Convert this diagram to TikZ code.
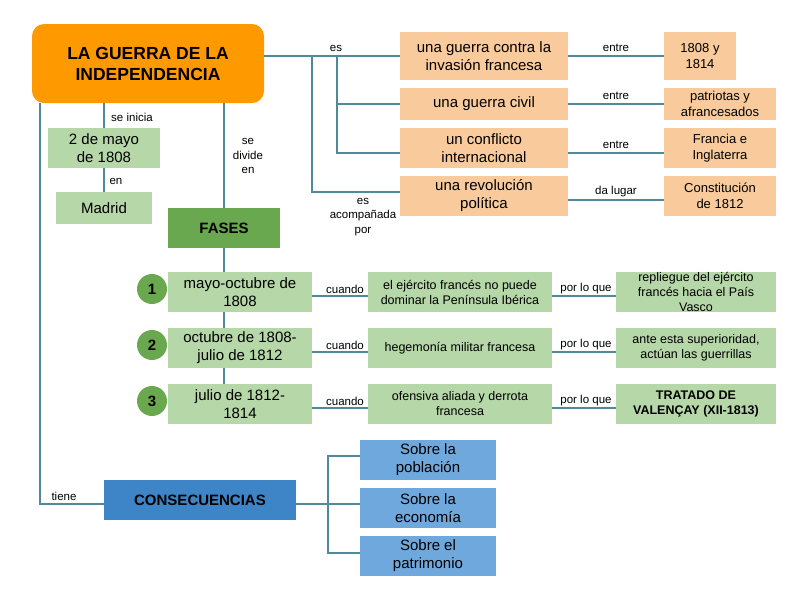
\documentclass[tikz,border=0pt]{standalone}
\usepackage{fontspec}
\setmainfont{Liberation Sans}
\definecolor{orangeM}{HTML}{FF9900}
\definecolor{peach}{HTML}{F9CB9C}
\definecolor{lgreen}{HTML}{B6D7A8}
\definecolor{dgreen}{HTML}{6AA84F}
\definecolor{dblue}{HTML}{3D85C6}
\definecolor{lblue}{HTML}{6FA8DC}
\definecolor{linec}{HTML}{4F8A9B}
\tikzset{
  bx/.style={inner sep=0pt, align=center, font=\fontsize{15}{18}\selectfont},
  sbx/.style={inner sep=0pt, align=center, font=\fontsize{12.5}{15}\selectfont},
  conn/.style={draw=linec, line width=2pt},
  lbl/.style={inner sep=0pt, align=center, font=\fontsize{11.5}{14.5}\selectfont},
  num/.style={circle, fill=dgreen, minimum size=30pt, inner sep=0pt, font=\bfseries\fontsize{15}{18}\selectfont}
}
\begin{document}
\begin{tikzpicture}[x=1pt,y=-1pt]
\useasboundingbox (0,0) rectangle (800,600);
% main
\node[bx, fill=orangeM, rounded corners=12pt, minimum width=232pt, minimum height=79pt, font=\bfseries\fontsize{17.5}{21}\selectfont] (main) at (148,63.5) {LA GUERRA DE LA\\INDEPENDENCIA};
% left column
\node[bx, fill=lgreen, minimum width=112pt, minimum height=40pt] (date) at (104,148) {2 de mayo\\de 1808};
\node[bx, fill=lgreen, minimum width=96pt, minimum height=32pt] (madrid) at (104,208) {Madrid};
\node[bx, fill=dgreen, minimum width=112pt, minimum height=40pt, font=\bfseries\fontsize{15}{18}\selectfont] (fases) at (224,228) {FASES};
% phases
\node[bx, fill=lgreen, minimum width=144pt, minimum height=40pt] (ph1) at (240,292) {mayo-octubre de\\1808};
\node[bx, fill=lgreen, minimum width=144pt, minimum height=40pt] (ph2) at (240,348) {octubre de 1808-\\julio de 1812};
\node[bx, fill=lgreen, minimum width=144pt, minimum height=40pt] (ph3) at (240,404) {julio de 1812-\\1814};
\node[num] (n1) at (152,289) {1};
\node[num] (n2) at (152,345) {2};
\node[num] (n3) at (152,401) {3};
\node[sbx, fill=lgreen, minimum width=184pt, minimum height=40pt] (m1) at (460,292) {el ejército francés no puede\\dominar la Península Ibérica};
\node[sbx, fill=lgreen, minimum width=184pt, minimum height=40pt] (m2) at (460,348) {hegemonía militar francesa};
\node[sbx, fill=lgreen, minimum width=184pt, minimum height=40pt] (m3) at (460,404) {ofensiva aliada y derrota\\francesa};
\node[sbx, fill=lgreen, minimum width=160pt, minimum height=40pt] (r1) at (696,292) {repliegue del ejército\\francés hacia el País\\Vasco};
\node[sbx, fill=lgreen, minimum width=160pt, minimum height=40pt] (r2) at (696,348) {ante esta superioridad,\\actúan las guerrillas};
\node[sbx, fill=lgreen, minimum width=160pt, minimum height=40pt, font=\bfseries\fontsize{12.5}{15}\selectfont] (r3) at (696,404) {TRATADO DE\\VALENÇAY (XII-1813)};
% top right
\node[bx, fill=peach, minimum width=168pt, minimum height=48pt] (a1) at (484,56) {una guerra contra la\\invasión francesa};
\node[bx, fill=peach, minimum width=168pt, minimum height=32pt] (a2) at (484,104) {una guerra civil};
\node[bx, fill=peach, minimum width=168pt, minimum height=40pt] (a3) at (484,148) {un conflicto\\internacional};
\node[bx, fill=peach, minimum width=168pt, minimum height=40pt] (a4) at (484,196) {una revolución\\política};
\node[sbx, fill=peach, minimum width=72pt, minimum height=48pt, font=\fontsize{13}{16}\selectfont] (b1) at (700,56) {1808 y\\1814};
\node[sbx, fill=peach, minimum width=112pt, minimum height=32pt, font=\fontsize{13}{16}\selectfont] (b2) at (720,104) {patriotas y\\afrancesados};
\node[sbx, fill=peach, minimum width=112pt, minimum height=40pt, font=\fontsize{13}{16}\selectfont] (b3) at (720,148) {Francia e\\Inglaterra};
\node[sbx, fill=peach, minimum width=112pt, minimum height=40pt, font=\fontsize{13}{16}\selectfont] (b4) at (720,196) {Constitución\\de 1812};
% consequences
\node[bx, fill=dblue, minimum width=192pt, minimum height=40pt, font=\bfseries\fontsize{15}{18}\selectfont] (cons) at (200,500) {CONSECUENCIAS};
\node[bx, fill=lblue, minimum width=136pt, minimum height=40pt] (c1) at (428,460) {Sobre la\\población};
\node[bx, fill=lblue, minimum width=136pt, minimum height=40pt] (c2) at (428,508) {Sobre la\\economía};
\node[bx, fill=lblue, minimum width=136pt, minimum height=40pt] (c3) at (428,556) {Sobre el\\patrimonio};
% coordinates
\coordinate (l0) at (40,103);
\coordinate (j1) at (312,56);
\coordinate (j2) at (337,56);
\coordinate (j3) at (328,504);
\coordinate (a3w) at ([yshift=-5pt]a3.west);
\coordinate (a4w) at ([yshift=4pt]a4.west);
\coordinate (c1w) at ([yshift=4pt]c1.west);
\coordinate (c3w) at ([yshift=3pt]c3.west);
% connectors
\draw[conn] (main.east |- a1.west) -- (a1.west);
\draw[conn] (j1) |- (a4w);
\draw[conn] (j2) |- (a3w);
\draw[conn] (j2 |- a2.west) -- (a2.west);
\draw[conn] (a1.east) -- (b1.west);
\draw[conn] (a2.east) -- (b2.west);
\draw[conn] ([yshift=-5pt]a3.east) -- ([yshift=-5pt]b3.west);
\draw[conn] ([yshift=-4pt]a4.east) -- ([yshift=-4pt]b4.west);
\draw[conn] (main.south -| date.north) -- (date.north);
\draw[conn] (date.south) -- (madrid.north);
\draw[conn] (main.south -| fases.north) -- (fases.north);
\draw[conn] (fases.south) -- (fases.south |- ph1.north);
\draw[conn] (ph1.south -| fases.south) -- (ph2.north -| fases.south);
\draw[conn] (ph2.south -| fases.south) -- (ph3.north -| fases.south);
\draw[conn] ([yshift=-3.5pt]ph1.east) -- ([yshift=-3.5pt]m1.west);
\draw[conn] ([yshift=-3.5pt]ph2.east) -- ([yshift=-3.5pt]m2.west);
\draw[conn] ([yshift=-3.5pt]ph3.east) -- ([yshift=-3.5pt]m3.west);
\draw[conn] ([yshift=-3.5pt]m1.east) -- ([yshift=-3.5pt]r1.west);
\draw[conn] ([yshift=-3.5pt]m2.east) -- ([yshift=-3.5pt]r2.west);
\draw[conn] ([yshift=-3.5pt]m3.east) -- ([yshift=-3.5pt]r3.west);
\draw[conn] (l0) |- ([yshift=-4pt]cons.west);
\draw[conn] ([yshift=-4pt]cons.east) -- (j3);
\draw[conn] (c1w) -| (c3w -| j3) -- (c3w);
\draw[conn] (j3) -- ([yshift=4pt]c2.west);
% labels
\node[lbl] (les) at (336,48) {es};
\node[lbl] (lacomp) at (363,217) {es\\acompañada\\por};
\node[lbl] (le1) at (616,48) {entre};
\node[lbl] (le2) at (616,96) {entre};
\node[lbl] (le3) at (616,145) {entre};
\node[lbl] (ldl) at (616,192) {da lugar};
\node[lbl] (lini) at (132,117) {se inicia};
\node[lbl] (len) at (116,181) {en};
\node[lbl] (ldiv) at (248,156) {se\\divide\\en};
\node[lbl] (ltiene) at (64,496) {tiene};
\node[lbl] (lc1) at (345,289) {cuando};
\node[lbl] (lc2) at (345,345) {cuando};
\node[lbl] (lc3) at (345,401) {cuando};
\node[lbl] (lp1) at (586,289) {por lo que};
\node[lbl] (lp2) at (586,345) {por lo que};
\node[lbl] (lp3) at (586,401) {por lo que};
\end{tikzpicture}
\end{document}
